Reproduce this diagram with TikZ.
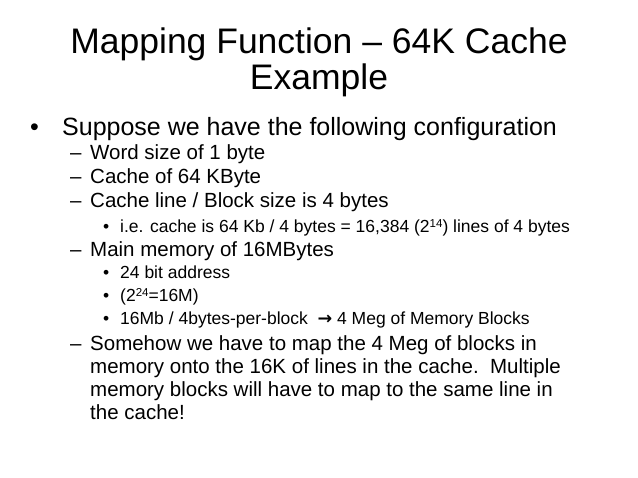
\documentclass[tikz,border=0pt]{standalone}
\usepackage{fontspec}
\setmainfont{Liberation Sans}
\newfontfamily\dv{DejaVu Sans}
\begin{document}
\begin{tikzpicture}[x=1pt,y=-1pt,
  t/.style={anchor=base west,inner sep=0pt},
  la/.style={t,font=\fontsize{25}{28}\selectfont},
  lb/.style={t,font=\fontsize{20.5}{23}\selectfont},
  lc/.style={t,font=\fontsize{17.5}{19}\selectfont}]
\useasboundingbox (0,0) rectangle (638,478);
\node[anchor=base,inner sep=0pt,font=\fontsize{35.5}{37}\selectfont] (t1) at (319,54) {Mapping Function – 64K Cache};
\node[anchor=base,inner sep=0pt,font=\fontsize{35.5}{37}\selectfont] (t2) at (319,90) {Example};
\node[la] (b1) at (30,136) {•};
\node[la] (s1) at (62,136) {Suppose we have the following configuration};
\node[lb] (d1) at (70,160) {–}; \node[lb] (s2) at (90,160) {Word size of 1 byte};
\node[lb] (d2) at (70,184) {–}; \node[lb] (s3) at (90,184) {Cache of 64 KByte};
\node[lb] (d3) at (70,208) {–}; \node[lb] (s4) at (90,208) {Cache line / Block size is 4 bytes};
\node[lc] (e1) at (103,233) {•}; \node[lc] (s5) at (120,233) {i.e. cache is 64 Kb / 4 bytes = 16,384 (2\raisebox{0.55ex}{\fontsize{11.5}{12}\selectfont 14}) lines of 4 bytes};
\node[lb] (d4) at (70,257) {–}; \node[lb] (s6) at (90,257) {Main memory of 16MBytes};
\node[lc] (e2) at (103,279) {•}; \node[lc] (s7) at (120,279) {24 bit address};
\node[lc] (e3) at (103,302) {•}; \node[lc] (s8) at (120,302) {(2\raisebox{0.55ex}{\fontsize{11.5}{12}\selectfont 24}=16M)};
\node[lc] (e4) at (103,325) {•}; \node[lc] (s9) at (120,325) {16Mb / 4bytes-per-block \ {\dv\bfseries →} 4 Meg of Memory Blocks};
\node[lb] (d5) at (70,351) {–};
\node[lb] (s10) at (90,351) {Somehow we have to map the 4 Meg of blocks in};
\node[lb] (s11) at (90,374) {memory onto the 16K of lines in the cache.\ \ Multiple};
\node[lb] (s12) at (90,397) {memory blocks will have to map to the same line in};
\node[lb] (s13) at (90,420) {the cache!};
\end{tikzpicture}
\end{document}
